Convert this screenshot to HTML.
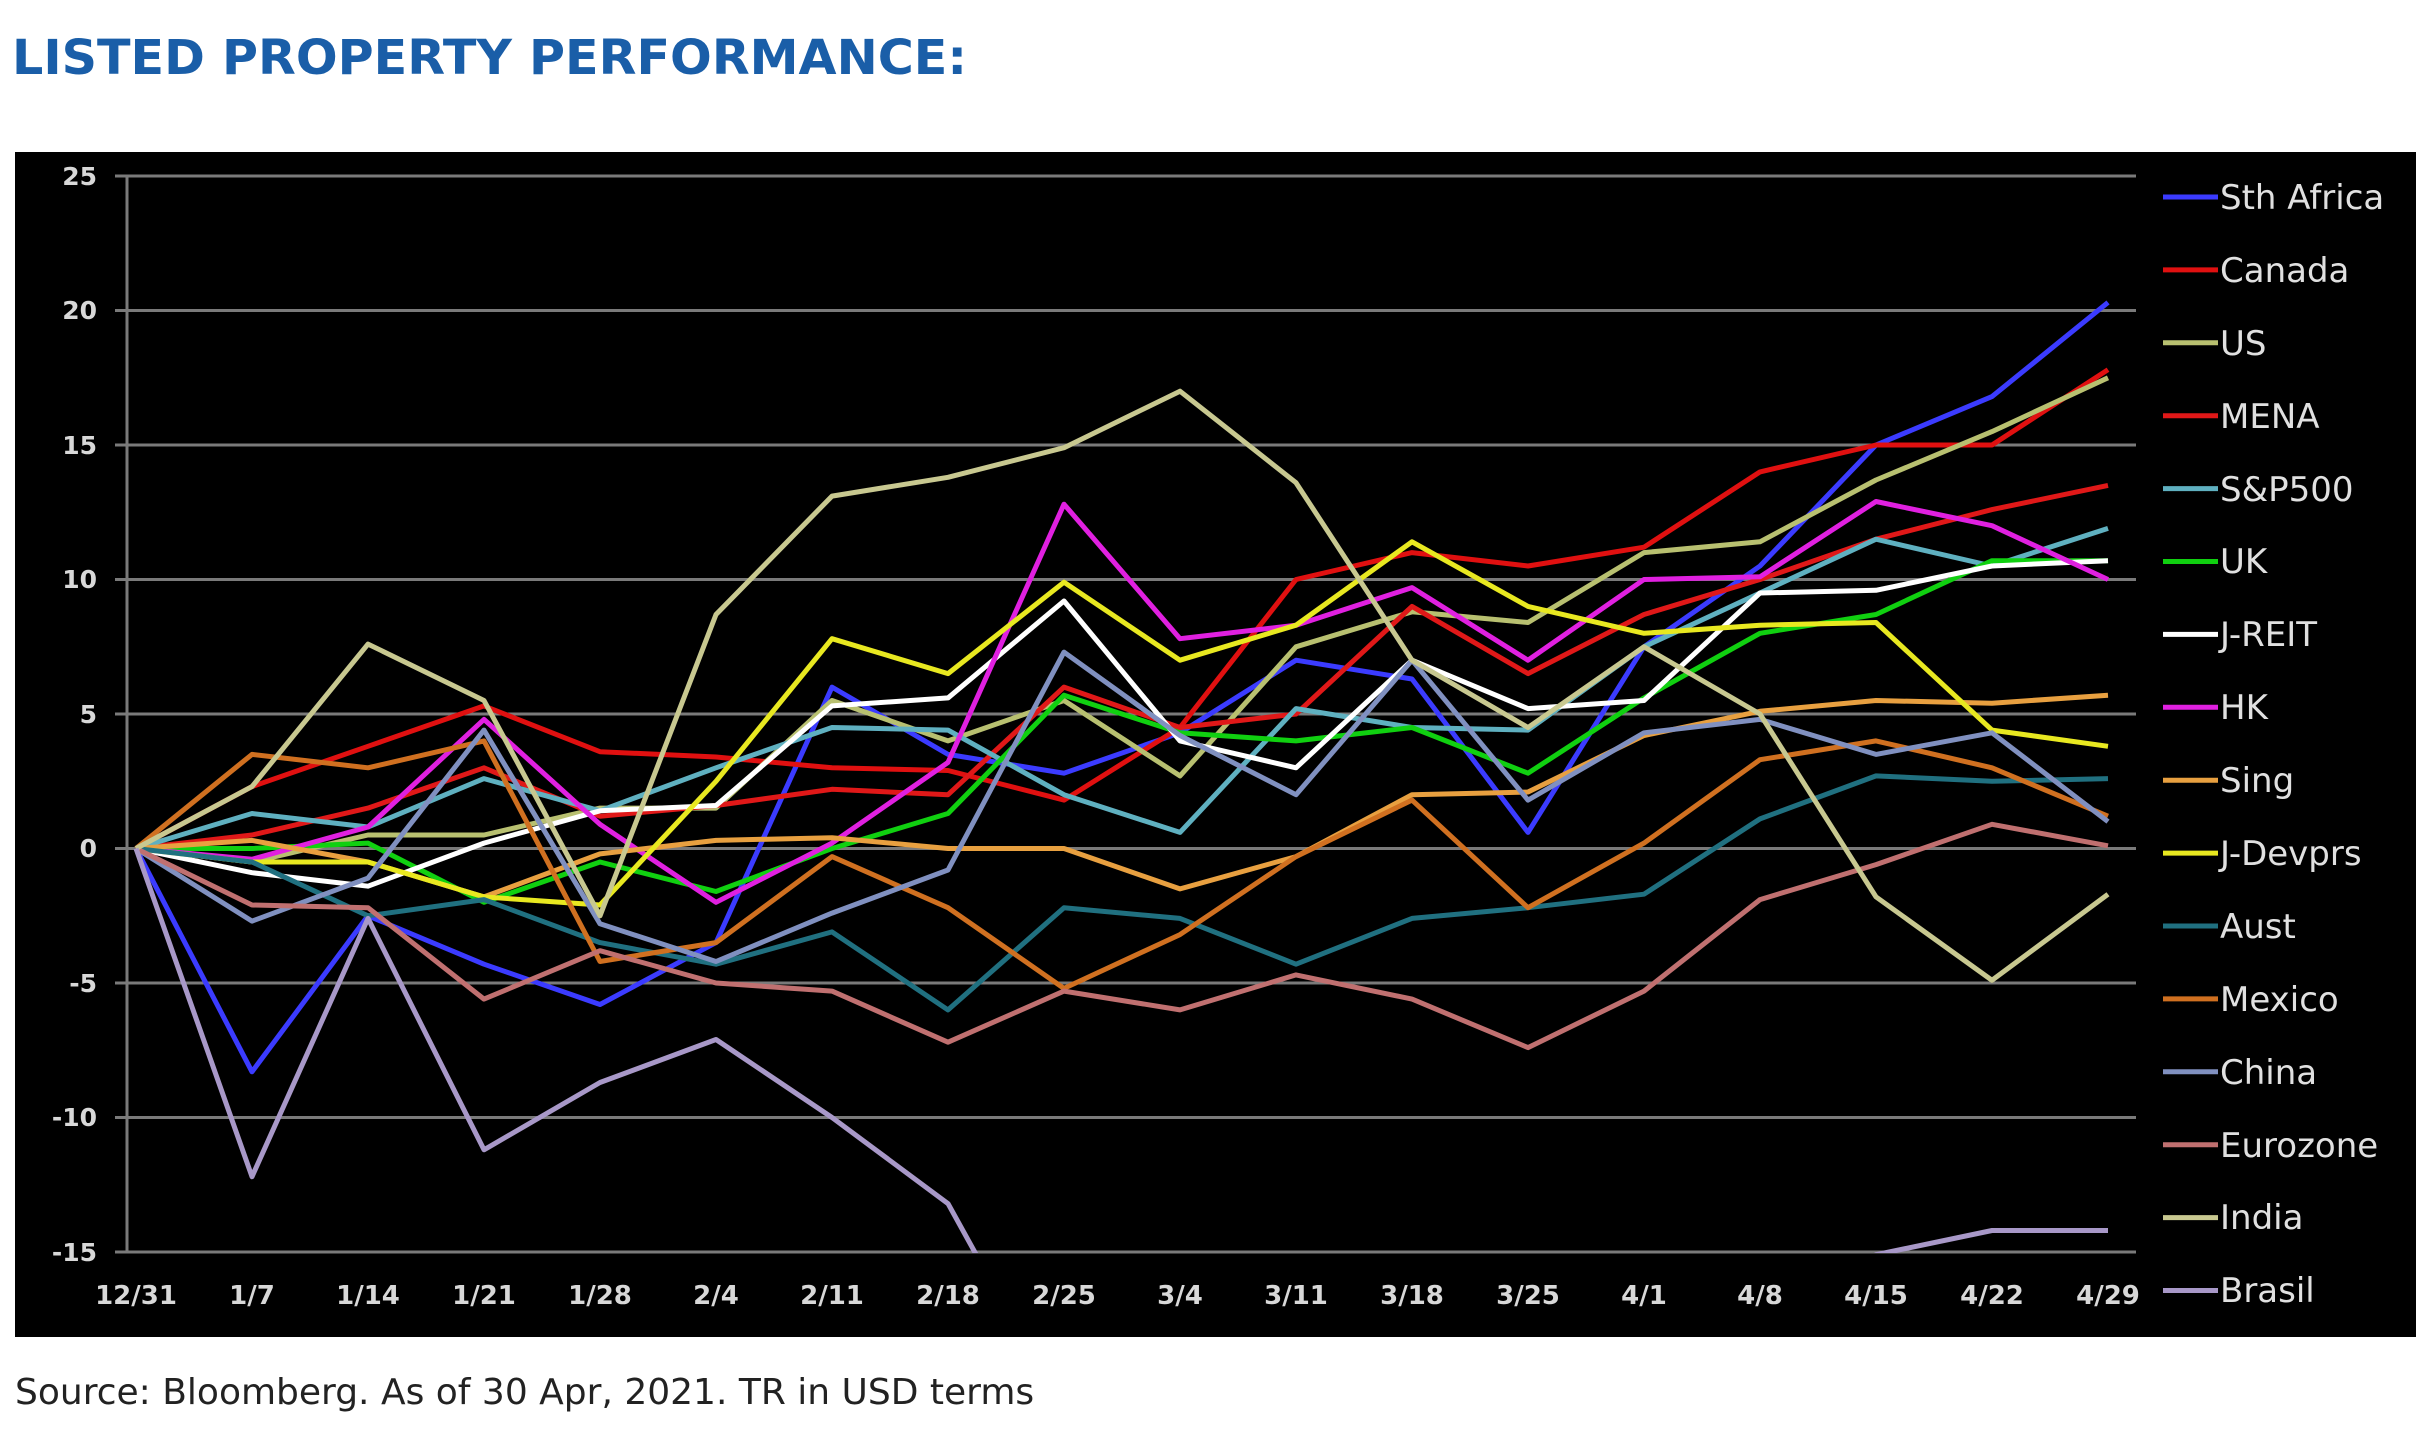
<!DOCTYPE html>
<html><head><meta charset="utf-8"><style>
body{margin:0;background:#fff;width:2431px;height:1430px;overflow:hidden}
</style></head><body>
<svg width="2431" height="1430" xmlns="http://www.w3.org/2000/svg" font-family="'DejaVu Sans','Liberation Sans',sans-serif">
<text x="12" y="74" font-size="48" font-weight="bold" fill="#1a5ea8" textLength="955" lengthAdjust="spacingAndGlyphs">LISTED PROPERTY PERFORMANCE:</text>
<rect x="15" y="152" width="2401" height="1185" fill="#000"/>
<g stroke="#7a7a7a" stroke-width="3">
<line x1="115" y1="176" x2="2136" y2="176"/>
<line x1="115" y1="310.5" x2="2136" y2="310.5"/>
<line x1="115" y1="445" x2="2136" y2="445"/>
<line x1="115" y1="579.5" x2="2136" y2="579.5"/>
<line x1="115" y1="714" x2="2136" y2="714"/>
<line x1="115" y1="848.5" x2="2136" y2="848.5"/>
<line x1="115" y1="983" x2="2136" y2="983"/>
<line x1="115" y1="1117.5" x2="2136" y2="1117.5"/>
<line x1="115" y1="1252" x2="2136" y2="1252"/>
<line x1="127" y1="176" x2="127" y2="1252"/>
</g>
<g fill="#d8d8d8" font-size="25" font-weight="bold" text-anchor="end">
<text x="97" y="185">25</text><text x="97" y="319">20</text><text x="97" y="454">15</text><text x="97" y="588">10</text><text x="97" y="723">5</text><text x="97" y="857">0</text><text x="97" y="992">-5</text><text x="97" y="1126">-10</text><text x="97" y="1261">-15</text>
</g>
<g fill="#d8d8d8" font-size="26" font-weight="bold" text-anchor="middle">
<text x="136" y="1304">12/31</text><text x="252" y="1304">1/7</text><text x="368" y="1304">1/14</text><text x="484" y="1304">1/21</text><text x="600" y="1304">1/28</text><text x="716" y="1304">2/4</text><text x="832" y="1304">2/11</text><text x="948" y="1304">2/18</text><text x="1064" y="1304">2/25</text><text x="1180" y="1304">3/4</text><text x="1296" y="1304">3/11</text><text x="1412" y="1304">3/18</text><text x="1528" y="1304">3/25</text><text x="1644" y="1304">4/1</text><text x="1760" y="1304">4/8</text><text x="1876" y="1304">4/15</text><text x="1992" y="1304">4/22</text><text x="2108" y="1304">4/29</text>
</g>
<defs><clipPath id="c"><rect x="127" y="160" width="2020" height="1093"/></clipPath></defs>
<g id="lines" clip-path="url(#c)" fill="none" stroke-width="5" stroke-linejoin="round"></g>
<g id="leg"></g>
<g fill="#e0e0e0" font-size="34">
<text x="2220" y="209">Sth Africa</text><text x="2220" y="282">Canada</text><text x="2220" y="355">US</text><text x="2220" y="428">MENA</text><text x="2220" y="501">S&amp;P500</text><text x="2220" y="573">UK</text><text x="2220" y="646">J-REIT</text><text x="2220" y="719">HK</text><text x="2220" y="792">Sing</text><text x="2220" y="865">J-Devprs</text><text x="2220" y="938">Aust</text><text x="2220" y="1011">Mexico</text><text x="2220" y="1084">China</text><text x="2220" y="1157">Eurozone</text><text x="2220" y="1229">India</text><text x="2220" y="1302">Brasil</text>
</g>
<text x="15" y="1404" font-size="36" fill="#222">Source: Bloomberg. As of 30 Apr, 2021. TR in USD terms</text>
<script>
var S=[
["#3b3bff",[0,-8.3,-2.5,-4.3,-5.8,-3.5,6,3.5,2.8,4.3,7,6.3,0.6,7.5,10.5,15,16.8,20.3]],
["#e01010",[0,2.3,3.8,5.3,3.6,3.4,3,2.9,1.8,4.5,10,11,10.5,11.2,14,15,15,17.8]],
["#b8c070",[0,-0.5,0.5,0.5,1.5,1.5,5.5,4,5.5,2.7,7.5,8.8,8.4,11,11.4,13.7,15.5,17.5]],
["#e01818",[0,0.5,1.5,3,1.2,1.6,2.2,2,6,4.5,5,9,6.5,8.7,10,11.5,12.6,13.5]],
["#5fb0c0",[0,1.3,0.8,2.6,1.4,3,4.5,4.4,2,0.6,5.2,4.5,4.4,7.5,9.5,11.5,10.5,11.9]],
["#10d010",[0,0,0.2,-2,-0.5,-1.6,0,1.3,5.7,4.3,4,4.5,2.8,5.6,8,8.7,10.7,10.7]],
["#ffffff",[0,-0.9,-1.4,0.2,1.4,1.6,5.3,5.6,9.2,4,3,7,5.2,5.5,9.5,9.6,10.5,10.7]],
["#e020e0",[0,-0.4,0.8,4.8,0.9,-2,0.2,3.2,12.8,7.8,8.3,9.7,7,10,10.1,12.9,12,10]],
["#e8a040",[0,0.3,-0.5,-1.8,-0.2,0.3,0.4,0,0,-1.5,-0.3,2,2.1,4.2,5.1,5.5,5.4,5.7]],
["#e8e820",[0,-0.5,-0.5,-1.8,-2.1,2.5,7.8,6.5,9.9,7,8.3,11.4,9,8,8.3,8.4,4.4,3.8]],
["#207080",[0,-0.5,-2.5,-1.9,-3.5,-4.3,-3.1,-6,-2.2,-2.6,-4.3,-2.6,-2.2,-1.7,1.1,2.7,2.5,2.6]],
["#d07020",[0,3.5,3,4,-4.2,-3.5,-0.3,-2.2,-5.2,-3.2,-0.3,1.8,-2.2,0.2,3.3,4,3,1.2]],
["#8090c0",[0,-2.7,-1.1,4.4,-2.8,-4.2,-2.4,-0.8,7.3,4.2,2,7,1.8,4.3,4.8,3.5,4.3,1]],
["#c07070",[0,-2.1,-2.2,-5.6,-3.8,-5,-5.3,-7.2,-5.3,-6,-4.7,-5.6,-7.4,-5.3,-1.9,-0.6,0.9,0.1]],
["#c8c890",[0,2.3,7.6,5.5,-2.5,8.7,13.1,13.8,14.9,17,13.6,7,4.5,7.5,5,-1.8,-4.9,-1.7]],
["#a898c8",[0,-12.2,-2.6,-11.2,-8.7,-7.1,-10,-13.2,-21,-22,-22,-22,-22,-22,-20,-15.1,-14.2,-14.2]]
];
var ns="http://www.w3.org/2000/svg",g=document.getElementById("lines"),L=document.getElementById("leg");
function Y(v){return 848.5-v*26.9}
S.forEach(function(s,i){var p=document.createElementNS(ns,"polyline");
p.setAttribute("points",s[1].map(function(v,k){return (136+k*116)+","+Y(v).toFixed(1)}).join(" "));
p.setAttribute("stroke",s[0]);g.appendChild(p);
var l=document.createElementNS(ns,"line");var y=197+i*72.9;
l.setAttribute("x1",2163);l.setAttribute("x2",2218);l.setAttribute("y1",y);l.setAttribute("y2",y);
l.setAttribute("stroke",s[0]);l.setAttribute("stroke-width",5);L.appendChild(l);});
</script>
</svg>
</body></html>
